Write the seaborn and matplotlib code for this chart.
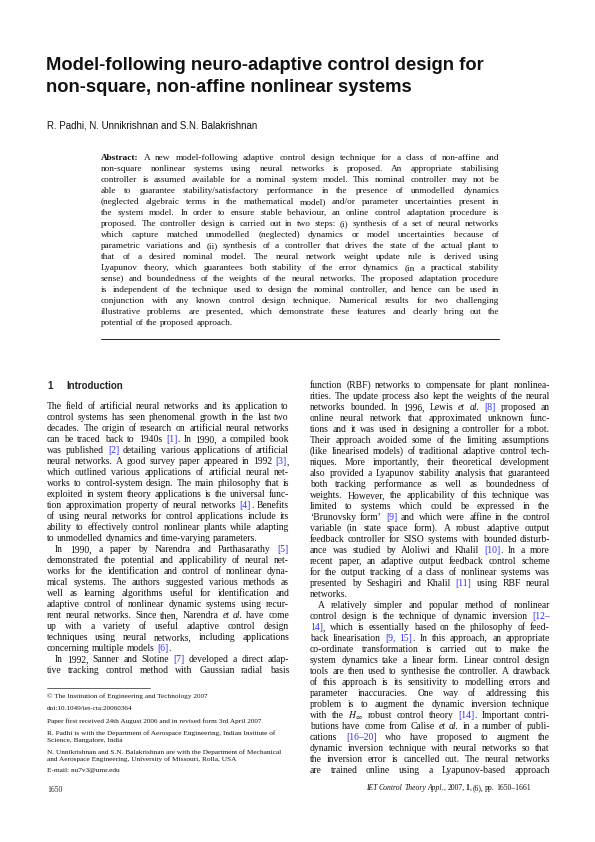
import re
import matplotlib
matplotlib.use("Agg")
import matplotlib.pyplot as plt
import seaborn as sns

sns.set_style("white")
plt.rcParams['font.family'] = ['Liberation Serif', 'DejaVu Serif']
plt.rcParams['mathtext.fontset'] = 'stix'

W, H = 595, 842

title_lines = ["Model-following neuro-adaptive control design for",
               "non-square, non-affine nonlinear systems"]
authors = "R. Padhi, N. Unnikrishnan and S.N. Balakrishnan"

abstract_lines = [
    "^Abstract:^ A new model-following adaptive control design technique for a class of non-affine and",
    "non-square nonlinear systems using neural networks is proposed. An appropriate stabilising",
    "controller is assumed available for a nominal system model. This nominal controller may not be",
    "able to guarantee stability/satisfactory performance in the presence of unmodelled dynamics",
    "(neglected algebraic terms in the mathematical model) and/or parameter uncertainties present in",
    "the system model. In order to ensure stable behaviour, an online control adaptation procedure is",
    "proposed. The controller design is carried out in two steps: (i) synthesis of a set of neural networks",
    "which capture matched unmodelled (neglected) dynamics or model uncertainties because of",
    "parametric variations and (ii) synthesis of a controller that drives the state of the actual plant to",
    "that of a desired nominal model. The neural network weight update rule is derived using",
    "Lyapunov theory, which guarantees both stability of the error dynamics (in a practical stability",
    "sense) and boundedness of the weights of the neural networks. The proposed adaptation procedure",
    "is independent of the technique used to design the nominal controller, and hence can be used in",
    "conjunction with any known control design technique. Numerical results for two challenging",
    "illustrative problems are presented, which demonstrate these features and clearly bring out the",
    "potential of the proposed approach.|",
]

left_lines = [
    "The field of artificial neural networks and its application to",
    "control systems has seen phenomenal growth in the last two",
    "decades. The origin of research on artificial neural networks",
    "can be traced back to 1940s {[1]}. In 1990, a compiled book",
    "was published {[2]} detailing various applications of artificial",
    "neural networks. A good survey paper appeared in 1992 {[3]},",
    "which outlined various applications of artificial neural net-",
    "works to control-system design. The main philosophy that is",
    "exploited in system theory applications is the universal func-",
    "tion approximation property of neural networks {[4]}. Benefits",
    "of using neural networks for control applications include its",
    "ability to effectively control nonlinear plants while adapting",
    "to unmodelled dynamics and time-varying parameters.|",
    "  In 1990, a paper by Narendra and Parthasarathy {[5]}",
    "demonstrated the potential and applicability of neural net-",
    "works for the identification and control of nonlinear dyna-",
    "mical systems. The authors suggested various methods as",
    "well as learning algorithms useful for identification and",
    "adaptive control of nonlinear dynamic systems using recur-",
    "rent neural networks. Since then, Narendra *et* *al.* have come",
    "up with a variety of useful adaptive control design",
    "techniques using neural networks, including applications",
    "concerning multiple models {[6]}.|",
    "  In 1992, Sanner and Slotine {[7]} developed a direct adap-",
    "tive tracking control method with Gaussian radial basis",
]

right_lines = [
    "function (RBF) networks to compensate for plant nonlinea-",
    "rities. The update process also kept the weights of the neural",
    "networks bounded. In 1996, Lewis *et* *al.* {[8]} proposed an",
    "online neural network that approximated unknown func-",
    "tions and it was used in designing a controller for a robot.",
    "Their approach avoided some of the limiting assumptions",
    "(like linearised models) of traditional adaptive control tech-",
    "niques. More importantly, their theoretical development",
    "also provided a Lyapunov stability analysis that guaranteed",
    "both tracking performance as well as boundedness of",
    "weights. However, the applicability of this technique was",
    "limited to systems which could be expressed in the",
    "‘Brunovsky form’ {[9]} and which were affine in the control",
    "variable (in state space form). A robust adaptive output",
    "feedback controller for SISO systems with bounded disturb-",
    "ance was studied by Aloliwi and Khalil {[10]}. In a more",
    "recent paper, an adaptive output feedback control scheme",
    "for the output tracking of a class of nonlinear systems was",
    "presented by Seshagiri and Khalil {[11]} using RBF neural",
    "networks.|",
    "  A relatively simpler and popular method of nonlinear",
    "control design is the technique of dynamic inversion {[12–}",
    "{14]}, which is essentially based on the philosophy of feed-",
    "back linearisation {[9,} {15]}. In this approach, an appropriate",
    "co-ordinate transformation is carried out to make the",
    "system dynamics take a linear form. Linear control design",
    "tools are then used to synthesise the controller. A drawback",
    "of this approach is its sensitivity to modelling errors and",
    "parameter inaccuracies. One way of addressing this",
    "problem is to augment the dynamic inversion technique",
    "with the $H_\\infty$ robust control theory {[14]}. Important contri-",
    "butions have come from Calise *et* *al.* in a number of publi-",
    "cations {[16–20]} who have proposed to augment the",
    "dynamic inversion technique with neural networks so that",
    "the inversion error is cancelled out. The neural networks",
    "are trained online using a Lyapunov-based approach",
]

footnote_lines = [
    "© The Institution of Engineering and Technology 2007",
    "doi:10.1049/iet-cta:20060364",
    "Paper first received 24th August 2006 and in revised form 3rd April 2007",
    "R. Padhi is with the Department of Aerospace Engineering, Indian Institute of",
    "Science, Bangalore, India",
    "N. Unnikrishnan and S.N. Balakrishnan are with the Department of Mechanical",
    "and Aerospace Engineering, University of Missouri, Rolla, USA",
    "E-mail: nu7v3@umr.edu",
]
footnote_y = [696, 708, 721, 733, 740, 752, 759, 770]

page_number = "1650"
journal_ref = "*IET* *Control* *Theory* *Appl.*, 2007, ^1^, (6), pp. 1650–1661"

fig = plt.figure(figsize=(W / 100, H / 100), dpi=100)
fig.patch.set_facecolor("white")
renderer = fig.canvas.get_renderer()
BLUE = "#2b2bff"


def fx(x):
    return x / W


def fy(y):
    return 1 - y / H


def segments(word):
    out = []
    for m in re.finditer(r"\{([^}]*)\}|\*([^*]*)\*|\^([^^]*)\^|([^{*^]+)", word):
        if m.group(1) is not None:
            out.append((m.group(1), dict(color=BLUE)))
        elif m.group(2) is not None:
            out.append((m.group(2), dict(style="italic")))
        elif m.group(3) is not None:
            out.append((m.group(3), dict(weight="bold")))
        else:
            out.append((m.group(4), {}))
    return out


def draw_word(word, x, y, size, family, draw=True):
    w = 0
    for txt, st in segments(word):
        kw = dict(color="#111111")
        kw.update(st)
        t = fig.text(fx(x + w), fy(y), txt, fontsize=size, family=family,
                     va="baseline", ha="left", **kw)
        bb = t.get_window_extent(renderer)
        w += bb.width
        if not draw:
            t.remove()
    return w


def word_width(word, size, family):
    return draw_word(word, 0, -100, size, family, draw=False)


def draw_line(line, x0, x1, y, size, family=("Liberation Serif",), justify=True):
    indent = 0
    if line.startswith("  "):
        indent = 8
        line = line[2:]
    if line.endswith("|"):
        line = line[:-1]
        justify = False
    words = line.split(" ")
    widths = [word_width(w, size, family) for w in words]
    space = word_width("a a", size, family) - 2 * word_width("a", size, family)
    if justify and len(words) > 1:
        space = (x1 - x0 - indent - sum(widths)) / (len(words) - 1)
    x = x0 + indent
    for w, wd in zip(words, widths):
        draw_word(w, x, y, size, family)
        x += wd + space


SANS = ["Liberation Sans", "DejaVu Sans"]
SERIF = ["Liberation Serif", "DejaVu Serif"]

# Title
for i, t in enumerate(title_lines):
    fig.text(fx(46), fy(70 + i * 22), t, fontsize=13.2, family=SANS,
             weight="bold", va="baseline", color="#111111")
fig.text(fx(47), fy(129), authors, fontsize=7, family=SANS, va="baseline", color="#111111")

# Abstract
for i, ln in enumerate(abstract_lines):
    draw_line(ln, 101, 499, 160 + i * 11, 6.7, SERIF)
fig.add_artist(plt.Line2D([fx(101), fx(499)], [fy(339), fy(339)], color="#222222", lw=0.7))

# Heading
fig.text(fx(47), fy(389), "1", fontsize=7, family=SANS, weight="bold", va="baseline")
fig.text(fx(66), fy(389), "Introduction", fontsize=7, family=SANS, weight="bold", va="baseline")

# Columns
for i, ln in enumerate(left_lines):
    draw_line(ln, 47, 289, 409 + i * 11, 6.9, SERIF)
for i, ln in enumerate(right_lines):
    draw_line(ln, 310, 550, 388 + i * 11, 6.9, SERIF)

# Footnotes
fig.add_artist(plt.Line2D([fx(47), fx(150)], [fy(688), fy(688)], color="#222222", lw=0.5))
for t, y in zip(footnote_lines, footnote_y):
    fig.text(fx(47), fy(y + 2), t, fontsize=5.2, family=SERIF, va="baseline", color="#111111")

fig.text(fx(47), fy(792), page_number, fontsize=5.5, family=SERIF, va="baseline")
jw = word_width(journal_ref.replace(" ", "_"), 5.5, SERIF)
xj = 550 - jw
for w in journal_ref.split(" "):
    ww = draw_word(w, xj, 790, 5.5, SERIF)
    xj += ww + 1.5

fig.savefig("out.png", dpi=100, facecolor="white")
